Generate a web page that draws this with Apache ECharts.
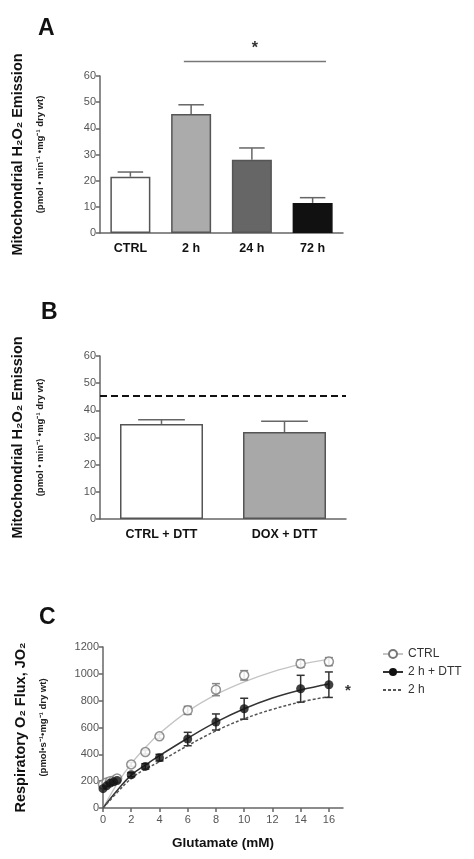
<!DOCTYPE html>
<html lang="en">

<head>
  <meta charset="UTF-8">
  <title>H2O2 emission and respiration</title>
  <script src="https://cdn.jsdelivr.net/npm/echarts@6.0.0/dist/echarts.min.js"></script>
  <style>
    * {
      padding: 0;
      margin: 0;
    }

    #box {
      width: 474px;
      height: 859px;
      background: #fff;
    }
  </style>
</head>

<body>
  <div id="box"></div>
  <script>
    // panel A
    var catsA = ['CTRL', '2 h', '24 h', '72 h']
    var valsA = [21.5, 45.5, 28, 11.5]
    var errA = [1.8, 3.5, 4.5, 2]
    var sigA = [1, 3, 65.5] // from cat index, to cat index, height

    // panel B
    var catsB = ['CTRL + DTT', 'DOX + DTT']
    var valsB = [35, 32]
    var errB = [1.5, 4]
    var refB = 45.5

    // panel C, measured points
    var glu = [0, 0.25, 0.5, 0.75, 1, 2, 3, 4, 6, 8, 10, 14, 16]
    var ctrlC = [175, 190, 200, 205, 220, 325, 417, 534, 728, 882, 989, 1076, 1091]
    var ctrlErr = [0, 0, 0, 0, 0, 15, 15, 15, 30, 45, 35, 28, 30]
    var dttC = [144, 165, 185, 195, 205, 248, 310, 375, 514, 641, 740, 889, 919]
    var dttErr = [0, 0, 0, 0, 0, 15, 20, 25, 50, 60, 78, 100, 95]

    // panel C, fitted curves
    var fitX = [0, 1, 2, 3, 4, 6, 8, 10, 12, 14, 16]
    var fitCtrl = [0, 180, 330, 450, 555, 720, 845, 940, 1015, 1070, 1110]
    var fitDtt = [0, 130, 245, 320, 390, 520, 640, 740, 820, 880, 925]
    var fit2h = [0, 115, 220, 290, 345, 465, 575, 665, 735, 790, 830]

    var ticksC = [0, 2, 4, 6, 8, 10, 12, 14, 16]

    var colorsA = ['#ffffff', '#ababab', '#666666', '#111111']
    var colorsB = ['#ffffff', '#a8a8a8']

    var FONT = 'Liberation Sans, Arial, sans-serif'
    var AXIS = '#666'

    function zip(xs, ys) {
      var out = []
      for (let i = 0; i < xs.length; i++) out.push([xs[i], ys[i]])
      return out
    }
    function zip3(xs, ys, es) {
      var out = []
      for (let i = 0; i < xs.length; i++) out.push([xs[i], ys[i], es[i]])
      return out
    }

    var nameRich = {
      t: { fontSize: 14.5, fontWeight: 'bold', color: '#111', lineHeight: 24, fontFamily: FONT },
      s: { fontSize: 9.5, fontWeight: 'bold', color: '#222', lineHeight: 20, fontFamily: FONT }
    }
    var nameH2O2 = '{t|Mitochondrial H₂O₂ Emission}\n{s|(pmol • min⁻¹ •mg⁻¹ dry wt)}'
    var nameJO2 = '{t|Respiratory O₂ Flux, JO₂}\n{s|(pmol•s⁻¹•mg⁻¹ dry wt)}'

    function catAxis(grid, data) {
      return {
        type: 'category', gridIndex: grid, data: data,
        axisLine: { lineStyle: { color: AXIS, width: 1.5 } },
        axisTick: { alignWithLabel: true, length: 5, lineStyle: { color: AXIS, width: 1.5 } },
        axisLabel: { color: '#111', fontSize: 12.5, fontWeight: 'bold', fontFamily: FONT, margin: 9 }
      }
    }
    function valAxis(grid, max, step, name) {
      return {
        type: 'value', gridIndex: grid, min: 0, max: max, interval: step,
        name: name, nameLocation: 'middle', nameRotate: 90, nameGap: 50,
        nameTextStyle: { rich: nameRich },
        axisLine: { show: true, lineStyle: { color: AXIS, width: 1.5 } },
        axisTick: { show: true, length: 4, lineStyle: { color: AXIS, width: 1.5 } },
        axisLabel: { color: '#555', fontSize: 11, fontFamily: FONT, margin: 4, formatter: function (v) { return String(v) } },
        splitLine: { show: false }
      }
    }

    function errBar(color, frac, both) {
      return function (params, api) {
        var x = api.value(0), v = api.value(1), e = api.value(2)
        if (!e) return null
        var top = api.coord([x, v + e])
        var bot = api.coord([x, both ? v - e : v])
        var hw = frac ? api.size([1, 0])[0] * frac : 4
        var st = { stroke: color, lineWidth: 1.5 }
        var kids = [
          { type: 'line', shape: { x1: top[0], y1: top[1], x2: bot[0], y2: bot[1] }, style: st },
          { type: 'line', shape: { x1: top[0] - hw, y1: top[1], x2: top[0] + hw, y2: top[1] }, style: st }
        ]
        if (both) kids.push({ type: 'line', shape: { x1: bot[0] - hw, y1: bot[1], x2: bot[0] + hw, y2: bot[1] }, style: st })
        return { type: 'group', children: kids }
      }
    }

    var mCharts = echarts.init(document.getElementById('box'))

    var letterStyle = { fontSize: 23, fontWeight: 'bold', color: '#111', fontFamily: FONT }
    var option = {
      backgroundColor: '#fff',
      animation: false,
      textStyle: { fontFamily: FONT },
      title: [
        { text: 'A', left: 33, top: 12, textStyle: letterStyle },
        { text: 'B', left: 36, top: 296, textStyle: letterStyle },
        { text: 'C', left: 34, top: 601, textStyle: letterStyle }
      ],
      legend: {
        orient: 'vertical', left: 377, top: 643, itemGap: 6,
        itemWidth: 20, itemHeight: 10,
        data: ['CTRL', '2 h + DTT', { name: '2 h', itemStyle: { opacity: 0 } }],
        textStyle: { fontSize: 12, color: '#333', fontFamily: FONT }
      },
      grid: [
        { left: 100, top: 76, width: 243, height: 157 },
        { left: 100, top: 356, width: 246, height: 163 },
        { left: 103, top: 647, width: 240, height: 161 }
      ],
      xAxis: [
        catAxis(0, catsA),
        catAxis(1, catsB),
        {
          type: 'value', gridIndex: 2, min: 0, max: 17,
          name: 'Glutamate (mM)', nameLocation: 'middle', nameGap: 28,
          nameTextStyle: { fontSize: 13.5, fontWeight: 'bold', color: '#111', fontFamily: FONT },
          axisLine: { lineStyle: { color: AXIS, width: 1.5 } },
          axisTick: { customValues: ticksC, length: 4, lineStyle: { color: AXIS, width: 1.5 } },
          axisLabel: { customValues: ticksC, color: '#555', fontSize: 11, fontFamily: FONT, margin: 6 },
          splitLine: { show: false }
        }
      ],
      yAxis: [
        valAxis(0, 60, 10, nameH2O2),
        valAxis(1, 60, 10, nameH2O2),
        valAxis(2, 1200, 200, nameJO2)
      ],
      series: [
        {
          type: 'bar', xAxisIndex: 0, yAxisIndex: 0, barWidth: 40,
          data: valsA.map(function (v, i) {
            return { value: v, itemStyle: { color: colorsA[i], borderColor: i === 3 ? '#111' : '#555', borderWidth: 1.5 } }
          })
        },
        {
          type: 'custom', xAxisIndex: 0, yAxisIndex: 0, renderItem: errBar('#666', 0.21, false),
          encode: { x: 0, y: 1 }, data: zip3([0, 1, 2, 3], valsA, errA), z: 3
        },
        {
          type: 'custom', xAxisIndex: 0, yAxisIndex: 0, clip: false, silent: true,
          encode: { x: 0, y: 2 }, data: [sigA],
          renderItem: function (params, api) {
            var a = api.coord([api.value(0), api.value(2)])
            var b = api.coord([api.value(1), api.value(2)])
            var band = api.size([1, 0])[0]
            var x1 = a[0] - band * 0.12, x2 = b[0] + band * 0.22
            return {
              type: 'group', children: [
                { type: 'line', shape: { x1: x1, y1: a[1], x2: x2, y2: a[1] }, style: { stroke: '#777', lineWidth: 1.5 } },
                { type: 'text', style: { text: '*', x: (x1 + x2) / 2, y: a[1] - 5, align: 'center', verticalAlign: 'bottom', font: 'bold 16px ' + FONT, fill: '#333' } }
              ]
            }
          }
        },
        {
          type: 'bar', xAxisIndex: 1, yAxisIndex: 1, barWidth: 83,
          data: valsB.map(function (v, i) {
            return { value: v, itemStyle: { color: colorsB[i], borderColor: '#555', borderWidth: 1.5 } }
          }),
          markLine: {
            silent: true, symbol: 'none', label: { show: false },
            lineStyle: { type: [7, 4], color: '#111', width: 2 },
            data: [{ yAxis: refB }]
          }
        },
        {
          type: 'custom', xAxisIndex: 1, yAxisIndex: 1, renderItem: errBar('#666', 0.19, false),
          encode: { x: 0, y: 1 }, data: zip3([0, 1], valsB, errB), z: 3
        },
        // fitted curves first so that the legend uses their icons
        {
          name: 'CTRL', type: 'line', xAxisIndex: 2, yAxisIndex: 2, smooth: 0.4,
          symbol: 'emptyCircle', symbolSize: 8, showSymbol: false,
          lineStyle: { color: '#c4c4c4', width: 1.3 },
          itemStyle: { color: '#777', borderWidth: 1.5 },
          data: zip(fitX, fitCtrl), z: 1
        },
        {
          name: '2 h + DTT', type: 'line', xAxisIndex: 2, yAxisIndex: 2, smooth: 0.4,
          symbol: 'circle', symbolSize: 8, showSymbol: false,
          lineStyle: { color: '#333', width: 1.5 },
          itemStyle: { color: '#111' },
          data: zip(fitX, fitDtt), z: 1
        },
        {
          name: '2 h', type: 'line', xAxisIndex: 2, yAxisIndex: 2, smooth: 0.4,
          symbol: 'none',
          lineStyle: { color: '#555', width: 1.5, type: [3, 2] },
          itemStyle: { color: '#555' },
          data: zip(fitX, fit2h), z: 1
        },
        {
          type: 'custom', xAxisIndex: 2, yAxisIndex: 2, renderItem: errBar('#888', 0, true),
          encode: { x: 0, y: 1 }, data: zip3(glu, ctrlC, ctrlErr), z: 2
        },
        {
          type: 'custom', xAxisIndex: 2, yAxisIndex: 2, renderItem: errBar('#333', 0, true),
          encode: { x: 0, y: 1 }, data: zip3(glu, dttC, dttErr), z: 2
        },
        {
          type: 'scatter', xAxisIndex: 2, yAxisIndex: 2,
          symbol: 'circle', symbolSize: 9,
          itemStyle: { color: '#fff', borderColor: '#777', borderWidth: 1.5 },
          data: zip(glu, ctrlC), z: 3
        },
        {
          type: 'scatter', xAxisIndex: 2, yAxisIndex: 2,
          symbol: 'circle', symbolSize: 9,
          itemStyle: { color: '#111' },
          data: zip(glu, dttC), z: 4
        },
        {
          type: 'custom', xAxisIndex: 2, yAxisIndex: 2, clip: false, silent: true,
          encode: { x: 0, y: 1 }, data: [[glu[glu.length - 1], dttC[dttC.length - 1]]],
          renderItem: function (params, api) {
            var p = api.coord([api.value(0), api.value(1)])
            return { type: 'text', style: { text: '*', x: p[0] + 19, y: p[1] + 6, align: 'center', verticalAlign: 'middle', font: 'bold 15px ' + FONT, fill: '#333' } }
          }
        }
      ]
    }
    mCharts.setOption(option)
  </script>
</body>

</html>
